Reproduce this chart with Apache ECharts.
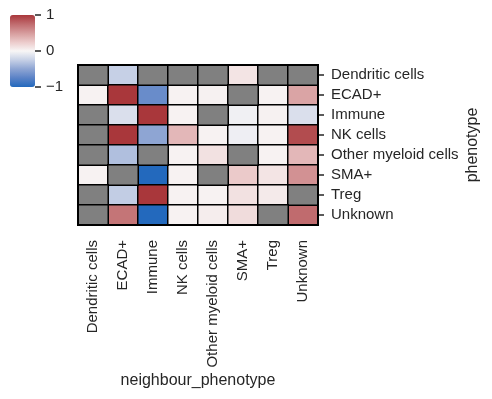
<!DOCTYPE html>
<html>
<head>
<meta charset="utf-8">
<script src="https://cdn.jsdelivr.net/npm/echarts@6/dist/echarts.min.js"></script>
<style>
  html, body { margin: 0; padding: 0; background: #fff; }
  #chart { width: 492px; height: 399px; }
</style>
</head>
<body>
<div id="chart"></div>
<script>
// 行列标签
var phenotypes = ['Dendritic cells', 'ECAD+', 'Immune', 'NK cells', 'Other myeloid cells', 'SMA+', 'Treg', 'Unknown'];
var neighbours = ['Dendritic cells', 'ECAD+', 'Immune', 'NK cells', 'Other myeloid cells', 'SMA+', 'Treg', 'Unknown'];
// 每行一个 phenotype, null = 无数据(灰色)
var rowDendritic = [null, -0.25, null, null, null, 0.1, null, null];
var rowEcad = [0.02, 1.0, -0.68, 0.02, 0.03, null, 0.02, 0.45];
var rowImmune = [null, -0.15, 1.0, 0.02, null, -0.04, 0.03, -0.15];
var rowNk = [null, 1.0, -0.5, 0.35, 0.02, -0.05, 0.02, 0.9];
var rowMyeloid = [null, -0.35, null, 0.02, 0.12, null, 0.02, 0.35];
var rowSma = [0.02, null, -1.0, 0.02, null, 0.25, 0.1, 0.55];
var rowTreg = [null, -0.27, 1.0, 0.02, 0.02, 0.12, 0.07, null];
var rowUnknown = [null, 0.7, -1.0, 0.02, 0.05, 0.15, null, 0.75];
var colorbarTicks = [-1, 0, 1];

var rows = [rowDendritic, rowEcad, rowImmune, rowNk, rowMyeloid, rowSma, rowTreg, rowUnknown];
var valueData = [];
var nanData = [];
rows.forEach(function(row, y){
	row.forEach(function(v, x){
		if (v === null) nanData.push([x, y, 0]);
		else valueData.push([x, y, v]);
	});
});

var textColor = '#262626';
var font = 'Liberation Sans, Arial, sans-serif';
var myChart = echarts.init(document.getElementById('chart'));
var option = {
	backgroundColor: '#fff',
	animation: false,
	grid: [
		{ left: 78, top: 65, width: 240, height: 160, show: true, borderColor: '#000', borderWidth: 2, backgroundColor: 'transparent', z: 5 },
		{ left: 10, top: 15, width: 25, height: 72 }
	],
	xAxis: [
		{
			type: 'category', gridIndex: 0, data: neighbours,
			axisLine: { show: false }, axisTick: { show: false }, splitLine: { show: false },
			axisLabel: { rotate: 90, margin: 15, interval: 0, color: textColor, fontSize: 15, fontFamily: font },
			name: 'neighbour_phenotype', nameLocation: 'middle', nameGap: 148,
			nameTextStyle: { color: textColor, fontSize: 16, fontFamily: font }
		},
		{ type: 'category', gridIndex: 1, data: [''], show: false }
	],
	yAxis: [
		{
			type: 'category', gridIndex: 0, data: phenotypes, inverse: true, position: 'right',
			axisLine: { show: false }, splitLine: { show: false },
			axisTick: { show: true, alignWithLabel: true, length: 6, lineStyle: { color: textColor, width: 1.5 } },
			axisLabel: { margin: 13, interval: 0, color: textColor, fontSize: 15, fontFamily: font },
			name: 'phenotype', nameLocation: 'middle', nameGap: 147, nameRotate: 90,
			nameTextStyle: { color: textColor, fontSize: 16, fontFamily: font }
		},
		{
			type: 'value', gridIndex: 1, min: -1, max: 1, interval: 1, position: 'right',
			axisLine: { show: false }, splitLine: { show: false },
			axisTick: { show: true, length: 6, lineStyle: { color: textColor, width: 1.5 } },
			axisLabel: {
				margin: 11, color: textColor, fontSize: 15, fontFamily: font,
				formatter: function(v){ return colorbarTicks.indexOf(v) >= 0 ? String(v).replace('-', '\u2212') : ''; }
			}
		}
	],
	visualMap: {
		type: 'continuous', min: -1, max: 1, seriesIndex: 0,
		left: 10, top: 15, itemWidth: 25, itemHeight: 72, padding: 0,
		calculable: false, showLabel: false, text: ['', ''],
		inRange: { color: ['#2369bd', '#5a82c6', '#8ea5d3', '#c6d0e6', '#f8f6f6', '#ebcaca', '#d69b9c', '#c06b6e', '#a9373b'] }
	},
	series: [
		{
			type: 'heatmap', xAxisIndex: 0, yAxisIndex: 0, data: valueData,
			itemStyle: { borderColor: '#000', borderWidth: 1.5 },
			emphasis: { disabled: true }
		},
		{
			type: 'heatmap', xAxisIndex: 0, yAxisIndex: 0, data: nanData,
			itemStyle: { color: '#808080', borderColor: '#000', borderWidth: 1.5 },
			emphasis: { disabled: true }
		}
	]
};
myChart.setOption(option);
</script>
</body>
</html>
